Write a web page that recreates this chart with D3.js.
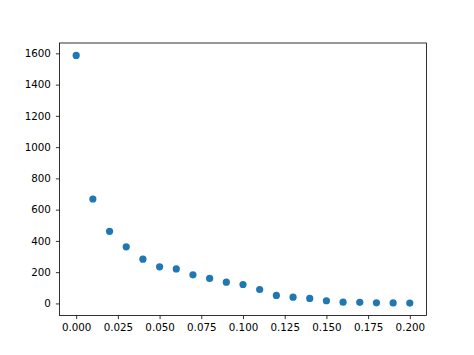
<!DOCTYPE html>
<html>
<head>
<meta charset="utf-8">
<script src="https://cdn.jsdelivr.net/npm/d3@7"></script>
<style>
  body { margin: 0; background: #fff; }
  .tick text { font-family: "DejaVu Sans", sans-serif; font-size: 10.3px; fill: #000; }
</style>
</head>
<body>
<div id="chart"></div>
<script>
// values
const xValues = [0, 0.01, 0.02, 0.03, 0.04, 0.05, 0.06, 0.07, 0.08, 0.09, 0.10,
                 0.11, 0.12, 0.13, 0.14, 0.15, 0.16, 0.17, 0.18, 0.19, 0.20]
const yValues = [1587, 668, 461, 362, 283, 234, 221, 183, 160, 136, 121,
                 89, 51, 40, 32, 17, 8, 7, 4, 3, 2]
const xTicks = [0, 0.025, 0.05, 0.075, 0.1, 0.125, 0.15, 0.175, 0.2]
const yTicks = [0, 200, 400, 600, 800, 1000, 1200, 1400, 1600]

const width = 474, height = 355
const margin = { top: 43, left: 59.5, bottom: 39.5, right: 47.5 }

const svg = d3.select('#chart')
    .append('svg')
    .attr('width', width)
    .attr('height', height)

// matplotlib style 5% padding around the data
const xPad = (d3.max(xValues) - d3.min(xValues)) * 0.05
const yPad = (d3.max(yValues) - d3.min(yValues)) * 0.05

const xScale = d3.scaleLinear()
    .domain([d3.min(xValues) - xPad, d3.max(xValues) + xPad])
    .range([margin.left, width - margin.right])
const yScale = d3.scaleLinear()
    .domain([d3.min(yValues) - yPad, d3.max(yValues) + yPad])
    .range([height - margin.bottom, margin.top])

svg.append('g')
    .attr('transform', `translate(0, ${height - margin.bottom})`)
    .call(d3.axisBottom(xScale)
        .tickValues(xTicks)
        .tickFormat(d3.format('.3f'))
        .tickSize(3.6)
        .tickPadding(4.5)
        .tickSizeOuter(0))
    .call(g => g.select('.domain').remove())
    .call(g => g.selectAll('.tick line').attr('stroke', '#000').attr('stroke-width', 0.8))

svg.append('g')
    .attr('transform', `translate(${margin.left}, 0)`)
    .call(d3.axisLeft(yScale)
        .tickValues(yTicks)
        .tickFormat(d3.format('d'))
        .tickSize(3.6)
        .tickPadding(5)
        .tickSizeOuter(0))
    .call(g => g.select('.domain').remove())
    .call(g => g.selectAll('.tick line').attr('stroke', '#000').attr('stroke-width', 0.8))

// axes frame
svg.append('rect')
    .attr('x', margin.left)
    .attr('y', margin.top)
    .attr('width', width - margin.left - margin.right)
    .attr('height', height - margin.top - margin.bottom)
    .attr('fill', 'none')
    .attr('stroke', '#000')
    .attr('stroke-width', 0.8)

svg.append('g')
    .selectAll('circle')
    .data(xValues)
    .enter()
    .append('circle')
    .attr('cx', d => xScale(d))
    .attr('cy', (d, i) => yScale(yValues[i]))
    .attr('r', 3.6)
    .style('fill', '#1f77b4')
</script>
</body>
</html>
